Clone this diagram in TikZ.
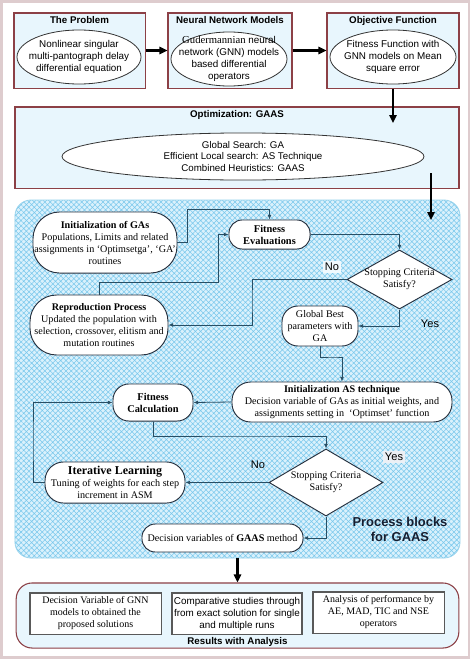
\documentclass[tikz,border=0pt]{standalone}
\usepackage{fontspec}
\setmainfont{Liberation Serif}
\setsansfont{Liberation Sans}
\usetikzlibrary{shapes.geometric,arrows.meta,patterns.meta}

\definecolor{frameRed}{RGB}{140,64,70}
\definecolor{boxBlue}{RGB}{232,246,253}
\definecolor{hatchBack}{RGB}{218,241,252}
\definecolor{hatchBlue}{RGB}{122,200,236}
\definecolor{hatchEdge}{RGB}{150,210,236}
\definecolor{procEdge}{RGB}{38,48,62}
\definecolor{flowLine}{RGB}{40,78,100}
\definecolor{pinkEdge}{RGB}{222,204,206}
\definecolor{answerBack}{RGB}{236,240,245}
\definecolor{blockInk}{RGB}{22,30,48}

\begin{document}
\begin{tikzpicture}[x=0.75pt,y=0.75pt,yscale=-1,xscale=1,
	topbox/.style={draw=frameRed,fill=boxBlue,line width=0.8pt,minimum height=56.3pt},
	oval/.style={ellipse,draw=black!80,fill=white,line width=0.6pt,inner sep=0pt},
	ovaltxt/.style={align=center,inner sep=0pt,font=\sffamily\fontsize{7.4}{9.1}\selectfont},
	titletxt/.style={inner sep=0pt,font=\sffamily\bfseries\fontsize{7.3}{9}\selectfont},
	procbox/.style={draw=procEdge,fill=white,line width=0.7pt,align=center,inner sep=0pt,font=\fontsize{7.6}{9}\selectfont},
	decide/.style={diamond,draw=procEdge,fill=white,line width=0.7pt,inner sep=0pt},
	decidetxt/.style={align=center,inner sep=0pt,font=\fontsize{7.6}{9.2}\selectfont},
	flow/.style={draw=flowLine,line width=0.6pt,-{Latex[length=3.5pt,width=3pt]}},
	bigarrow/.style={line width=1.6pt,-{Triangle[length=6pt,width=5.5pt]}},
	answer/.style={inner sep=1.5pt,font=\sffamily\fontsize{8.3}{10}\selectfont},
	resbox/.style={draw=black!65,fill=white,line width=0.8pt,minimum height=30.8pt,align=center,inner sep=0pt}
]
	\useasboundingbox (0,0) rectangle (474,664);
	\fill[white] (0,0) rectangle (474,664);
	\draw[pinkEdge,line width=2.2pt] (1.5,1.5) rectangle (469,657.5);

	% Top row
	\node[topbox,minimum width=98.3pt] (prob) at (79.5,50.5) {};
	\node[titletxt] (probT) at (79.5,20) {The Problem};
	\node[oval,minimum width=93pt,minimum height=40.5pt,
		label={[ovaltxt]center:Nonlinear singular\\multi-pantograph delay\\differential equation}] (probO) at (79,57) {};

	\node[topbox,minimum width=93pt] (nnm) at (230,50.5) {};
	\node[titletxt] (nnmT) at (230,20) {Neural Network Models};
	\node[oval,minimum width=87pt,minimum height=40.5pt,
		label={[ovaltxt]center:{\rmfamily\fontsize{8}{9.1}\selectfont Gudermannian} neural\\network (GNN) models\\based differential\\operators}] (nnmO) at (229,59) {};

	\node[topbox,minimum width=99pt] (obj) at (393,50.5) {};
	\node[titletxt] (objT) at (393,21) {Objective Function};
	\node[oval,minimum width=94.5pt,minimum height=40.5pt,
		label={[ovaltxt]center:Fitness Function with\\GNN models on Mean\\square error}] (objO) at (393,57) {};

	\draw[bigarrow] (prob.east) -- (nnm.west);
	\draw[bigarrow] (nnm.east) -- (obj.west);

	% Optimization
	\node[topbox,minimum width=333pt,minimum height=60.8pt] (opt) at (237,147.5) {};
	\node[titletxt] (optT) at (237,115) {Optimization: GAAS};
	\node[oval,minimum width=271.5pt,minimum height=35.3pt,
		label={[ovaltxt,font=\sffamily\fontsize{7.3}{8.3}\selectfont]center:Global Search: GA\\Efficient Local search: AS Technique\\Combined Heuristics: GAAS}] (optO) at (243,156.5) {};

	\coordinate (optIn) at (393,123);
	\draw[bigarrow] (obj.south) -- (optIn);

	% Process blocks
	\node[draw=hatchEdge,line width=0.6pt,rounded corners=12pt,minimum width=333.8pt,minimum height=268.5pt,
		preaction={fill=hatchBack},pattern={Hatch[angle=45,distance=2.8pt,line width=0.4pt]},pattern color=hatchBlue] (proc) at (237.5,379) {};

	\coordinate (optOut) at (431,173);
	\coordinate (procIn) at (431,220);
	\draw[bigarrow] (optOut) -- (procIn);

	\node[procbox,rounded corners=20pt,minimum width=108pt,minimum height=45.8pt] (initGA) at (105,242.5)
		{{\bfseries Initialization of GAs}\\Populations, Limits and related\\assignments in ‘Optimsetga’, ‘GA’\\routines};
	\node[procbox,rounded corners=10pt,minimum width=60.8pt,minimum height=21.8pt,font=\bfseries\fontsize{7.8}{9}\selectfont] (fitEval) at (269.5,234.5)
		{Fitness\\Evaluations};
	\node[decide,minimum width=78.8pt,minimum height=44.3pt,
		label={[decidetxt]center:Stopping Criteria\\Satisfy?}] (stop1) at (399.5,279.5) {};
	\node[procbox,rounded corners=20pt,minimum width=103.5pt,minimum height=45pt] (repro) at (99,325)
		{{\bfseries Reproduction Process}\\Updated the population with\\selection, crossover, elitism and\\mutation routines};
	\node[procbox,rounded corners=12pt,minimum width=57pt,minimum height=30pt] (gbest) at (320,326)
		{Global Best\\parameters with\\GA};
	\node[procbox,rounded corners=14pt,minimum width=165pt,minimum height=30pt] (initAS) at (342,402)
		{{\bfseries Initialization AS technique}\\Decision variable of GAs as initial weights, and\\assignments setting in\ \ ‘Optimset’ function};
	\node[procbox,rounded corners=12pt,minimum width=60pt,minimum height=27.8pt,font=\bfseries\fontsize{7.8}{9}\selectfont] (fitCalc) at (153,402.5)
		{Fitness\\Calculation};
	\node[decide,minimum width=85.5pt,minimum height=50.3pt,
		label={[decidetxt]center:Stopping Criteria\\Satisfy?}] (stop2) at (326,482.5) {};
	\node[procbox,rounded corners=14pt,minimum width=105pt,minimum height=30.8pt] (iterL) at (115,482.5)
		{{\bfseries\fontsize{9}{10}\selectfont Iterative Learning}\\Tuning of weights for each step\\increment in ASM};
	\node[procbox,rounded corners=10pt,minimum width=120.8pt,minimum height=21pt] (decGAAS) at (222.5,538)
		{Decision variables of \textbf{GAAS} method};
	\node[align=center,inner sep=0pt,text=blockInk,font=\sffamily\bfseries\fontsize{9.7}{11.3}\selectfont] (blockT) at (400,529)
		{Process blocks\\for GAAS};

	% Connections inside the process blocks
	\coordinate (j1) at (187,209);
	\draw[flow] (initGA.east) -| (j1) -| (fitEval.north);
	\coordinate (j2) at (218,282);
	\draw[flow] (repro.north) |- (j2) |- (fitEval.west);
	\draw[flow] (fitEval.east) -| (stop1.north);
	\coordinate (j3) at (252,300);
	\draw[flow] (stop1.west) -| (j3) |- (repro.east);
	\node[answer,fill=white!60!hatchBack] (no1) at (332,267) {No};
	\draw[flow] (stop1.south) |- (gbest.east);
	\node[answer] (yes1) at (430,324) {Yes};
	\coordinate (j4) at (335,357);
	\draw[flow] (gbest.south) |- (j4) -| (initAS.north);
	\draw[flow] (initAS.west) -- (fitCalc.east);
	\coordinate (j5) at (250,436);
	\draw[flow] (fitCalc.south) |- (j5) -| (stop2.north);
	\draw[flow] (stop2.west) -- (iterL.east);
	\node[answer] (no2) at (258,465) {No};
	\coordinate (j6) at (33,440);
	\draw[flow] (iterL.west) -| (j6) |- (fitCalc.west);
	\draw[flow] (stop2.south) |- (decGAAS.east);
	\node[answer,fill=answerBack] (yes2) at (394,457) {Yes};

	% Results
	\node[draw=frameRed,fill=boxBlue,line width=0.8pt,rounded corners=12pt,minimum width=332pt,minimum height=48.8pt] (results) at (237.5,615.5) {};
	\node[titletxt] (resultsT) at (237.5,642) {Results with Analysis};
	\draw[bigarrow] (proc.south) -- (results.north);

	\node[resbox,minimum width=98.3pt,font=\fontsize{7.5}{9}\selectfont] (res1) at (95.5,613.5)
		{Decision Variable of GNN\\models to obtained the\\proposed solutions};
	\node[resbox,minimum width=97.5pt,font=\sffamily\fontsize{7.4}{9}\selectfont] (res2) at (237,613.5)
		{Comparative studies through\\from exact solution for single\\and multiple runs};
	\node[resbox,minimum width=98.3pt,font=\fontsize{7.5}{9}\selectfont] (res3) at (378.5,612.5)
		{Analysis of performance by\\AE, MAD, TIC and NSE\\operators};

\end{tikzpicture}
\end{document}
